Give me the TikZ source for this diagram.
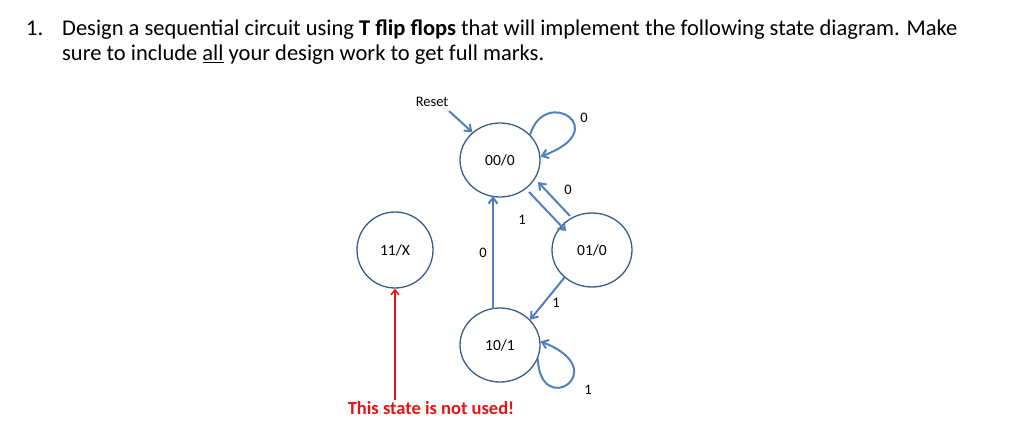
\documentclass[tikz,border=0pt]{standalone}
\usepackage{fontspec}
\setmainfont{Carlito}
\usetikzlibrary{positioning,shapes.geometric,arrows.meta}
\definecolor{ring}{RGB}{56,93,138}
\definecolor{flow}{RGB}{79,129,189}
\definecolor{warn}{RGB}{230,20,20}
\begin{document}
\begin{tikzpicture}[x=1pt,y=-1pt,
  state/.style={ellipse,draw=ring,line width=1.3pt,minimum width=80pt,minimum height=74pt,inner sep=0pt,font=\fontsize{15.5}{18}\selectfont},
  lbl/.style={font=\fontsize{14.5}{17}\selectfont,inner sep=1pt},
  edge/.style={draw=flow,line width=2pt,-{Straight Barb[length=6pt,width=9pt]}}]
\useasboundingbox (0,0) rectangle (1024,438);

\node[anchor=base west,inner sep=0pt,font=\fontsize{22.5}{27}\selectfont] (num) at (26,36) {1.};
\node[anchor=base west,inner sep=0pt,font=\fontsize{22.5}{27}\selectfont] (line1) at (62,36)
  {Design a sequential circuit using \textbf{T flip flops} that will implement the following state diagram. Make};
\node[anchor=base west,inner sep=0pt,font=\fontsize{22.5}{27}\selectfont] (line2) at (62,61)
  {sure to include \underline{all} your design work to get full marks.};

\node[state] (s00) at (500,160) {00/0};
\node[state,minimum width=76pt,minimum height=76pt] (s11) at (395,250) {11/X};
\node[state] (s01) at (592,250) {01/0};
\node[state] (s10) at (500,345) {10/1};

\node[lbl] (reset) at (432,102) {Reset};
\draw[edge] (449,111) -- (s00.135);

% self loops
\draw[edge] (s00.40) .. controls (545,85) and (615,130) .. (s00.5);
\node[lbl] at (584,118) {0};
\draw[edge] (s10.-20) .. controls (540,420) and (615,370) .. (s10.5);
\node[lbl] at (588,390) {1};

% transitions
\draw[edge] (529,192) -- (566,231);
\node[lbl] at (522,220) {1};
\draw[edge] (570,216) -- (538,182);
\node[lbl] at (568,190) {0};
\draw[edge] (s01.-135) -- (s10.40);
\node[lbl] at (556,303) {1};
\draw[edge] (493,309) -- (493,196);
\node[lbl] at (483,253) {0};

% unused state
\node[font=\fontsize{18.5}{22}\selectfont\bfseries,text=warn,inner sep=0pt] (note) at (431,408) {This state is not used!};
\draw[warn,line width=1.5pt,-{Straight Barb[length=5pt,width=8pt]}] (395,400) -- (s11.south);
\end{tikzpicture}
\end{document}
